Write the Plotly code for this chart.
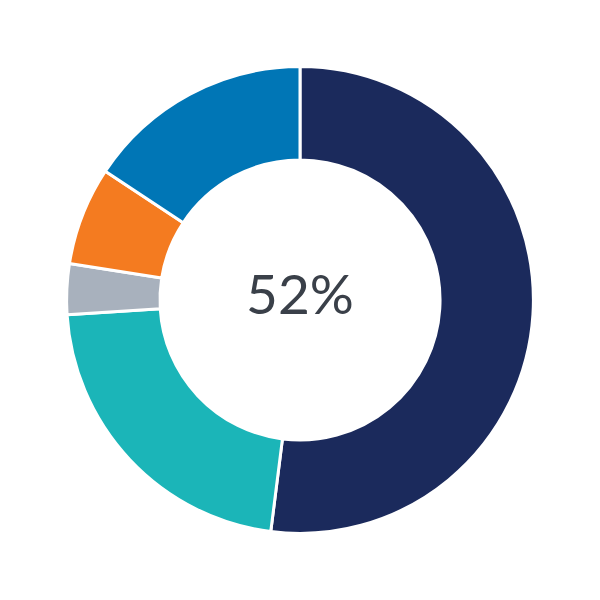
import plotly.graph_objects as go

labels = ["A", "B", "C", "D", "E"]
values = [52, 22, 3.5, 6.8, 15.7]
colors = ["#1B2A5C", "#1BB5B8", "#A8B1BD", "#F47B20", "#0076B6"]
center_text = "52%"

off = 8 / 600  # compensate default page body margin

fig = go.Figure(go.Pie(
    labels=labels,
    values=values,
    hole=0.6,
    sort=False,
    direction="clockwise",
    rotation=0,
    marker=dict(colors=colors, line=dict(color="white", width=3)),
    textinfo="none",
    hoverinfo="none",
    domain=dict(x=[0.111 - off, 0.889 - off], y=[0.111 + off, 0.889 + off]),
))

fig.update_layout(
    width=600, height=600,
    margin=dict(l=0, r=0, t=0, b=0),
    showlegend=False,
    paper_bgcolor="white",
    annotations=[dict(
        text=center_text, x=0.5 - off, y=0.5 + off + 7 / 600,
        xref="paper", yref="paper",
        showarrow=False,
        font=dict(family="Lato", size=55, color="#3A4049"),
    )],
)

fig.write_html("out.html")
